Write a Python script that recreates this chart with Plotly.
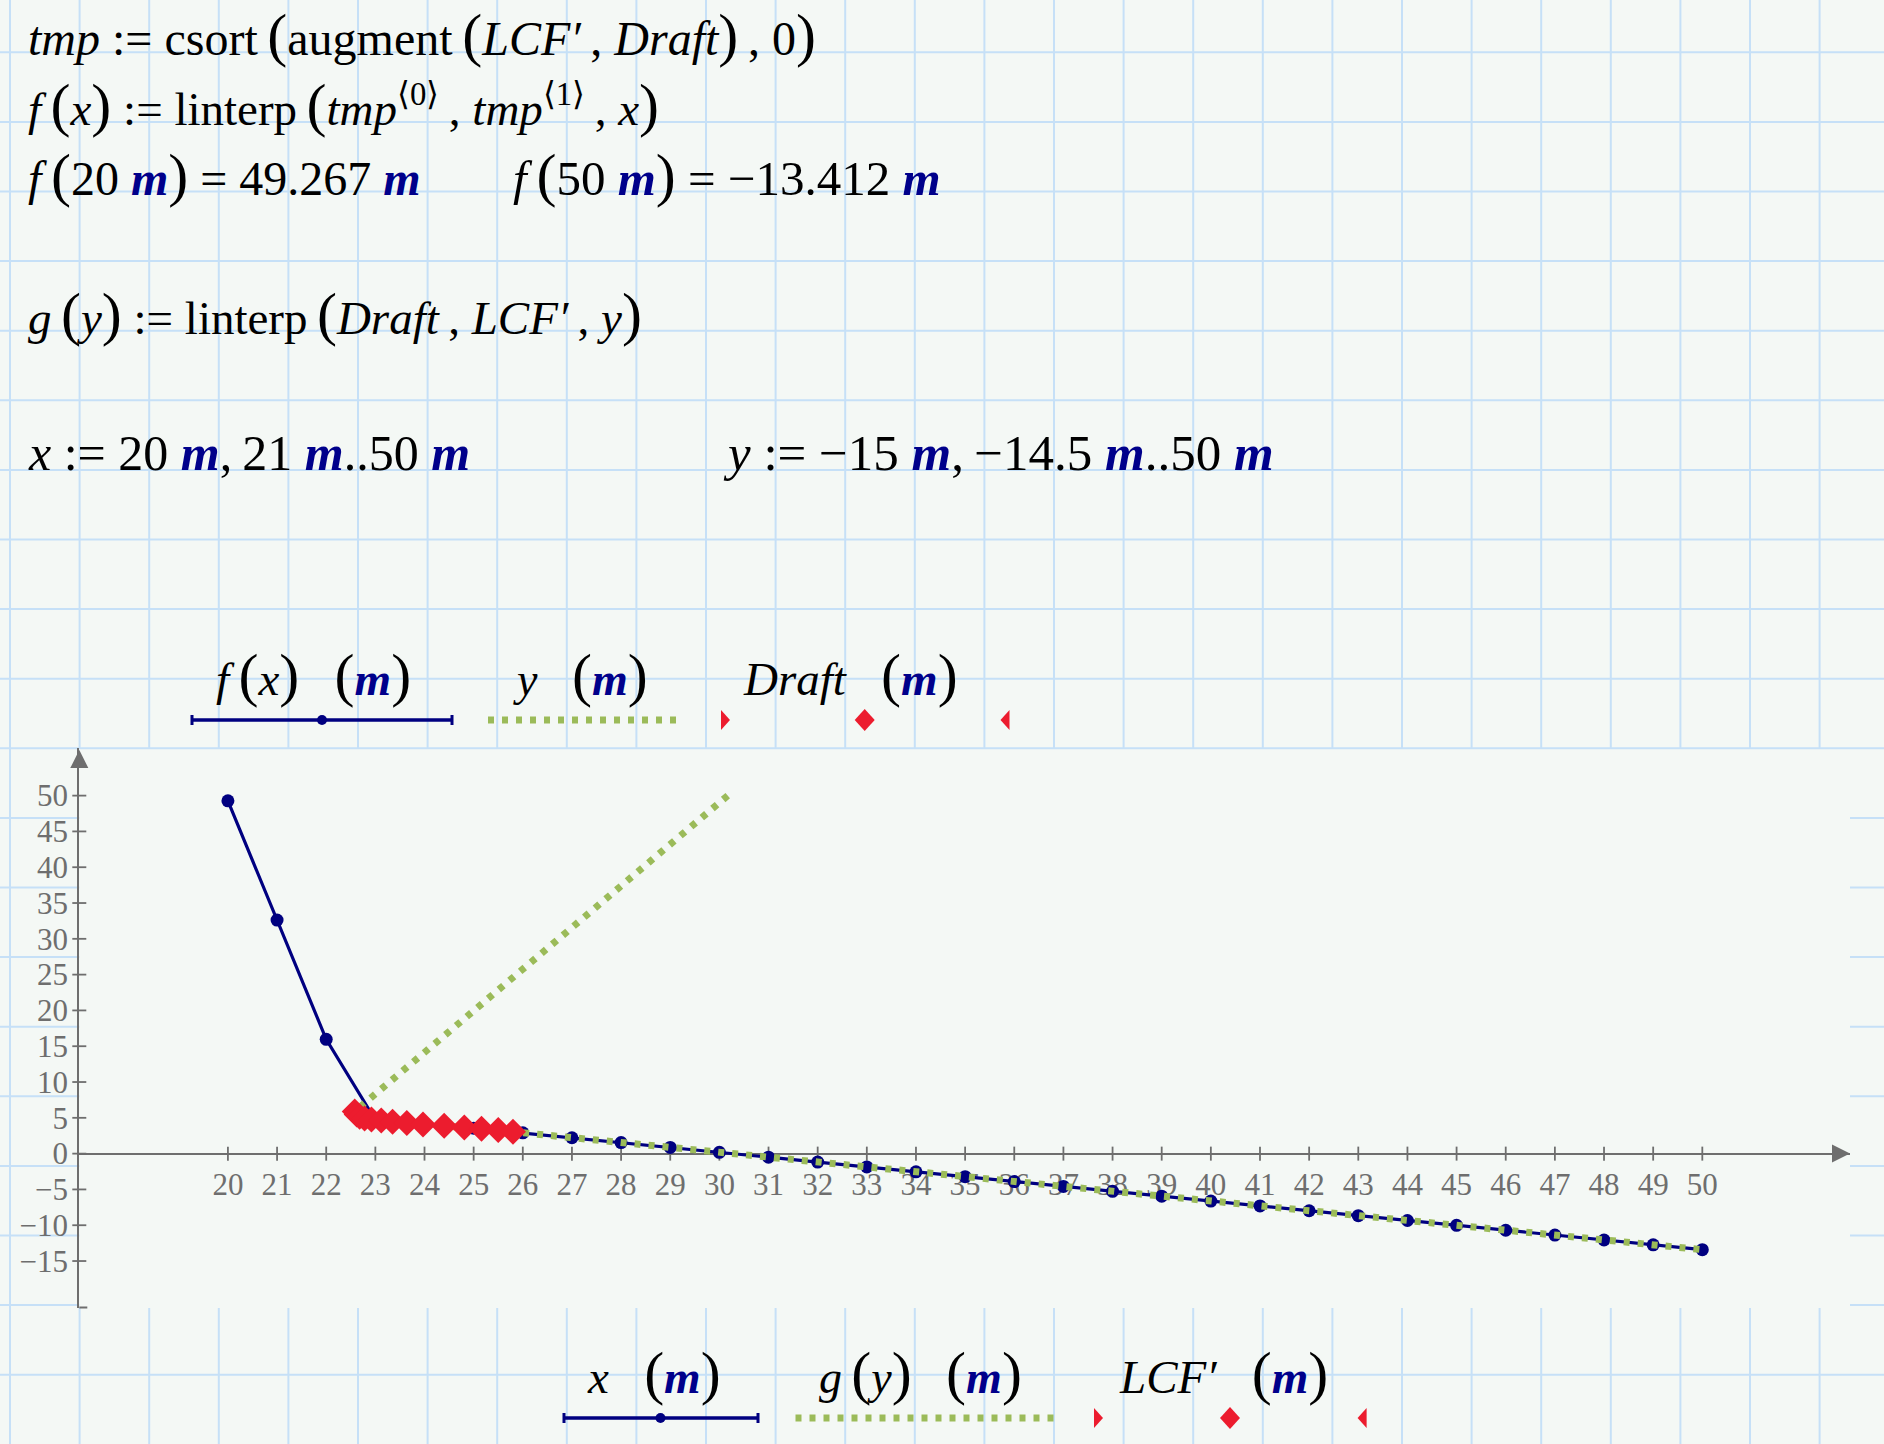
import plotly.graph_objects as go

W, H = 1884, 1444
BG = "#f4f8f5"
GRID = "#c6e0f7"
AXIS = "#6e6e6e"
NAVY = "#000080"
GREEN = "#9bbb59"
RED = "#ec1c2e"
UNIT = "#00008b"
FONT = "Liberation Serif"

# ── datos leídos de la hoja ───────────────────────────────────────────────────
# f(x) evaluada en x = 20 m, 21 m .. 50 m
x_vals = list(range(20, 51))
f_vals = [49.267, 32.62, 15.97, 4.70, 4.07, 3.56, 2.90, 2.22, 1.54, 0.86, 0.18,
          -0.50, -1.18, -1.86, -2.54, -3.22, -3.90, -4.58, -5.26, -5.94, -6.62,
          -7.30, -7.98, -8.66, -9.34, -10.02, -10.70, -11.38, -12.06, -12.74, -13.412]

# (g(y), y): vértices de la curva punteada
g_vals = [30.17, 22.60, 22.80, 23.40, 24.15, 25.10, 25.80, 50.08]
y_vals = [50.0, 6.0, 5.0, 4.45, 3.95, 3.50, 3.05, -13.47]

# (LCF', Draft)
lcf = [22.58, 22.62, 22.68, 22.78, 22.92, 23.12, 23.35, 23.64, 23.97, 24.40,
       24.81, 25.16, 25.50, 25.80]
draft = [5.90, 5.45, 5.15, 4.92, 4.76, 4.62, 4.45, 4.28, 4.08, 3.88,
         3.66, 3.48, 3.30, 3.05]

x_ticks = list(range(20, 51))
y_ticks = list(range(-15, 55, 5))

X_RANGE = [16.976, 53.005]
Y_RANGE = [-21.56, 56.65]


def px(x):
    return x / W


def py(y):
    return 1 - y / H


# ── geometría en píxeles ──────────────────────────────────────────────────────
PL, PR, PT, PB = 79.3, 1850, 748, 1308
Y0 = 1153.6  # píxel de y = 0

fig = go.Figure()

# marcas de los ejes (cruzan la línea)
fig.add_trace(go.Scatter(
    x=x_ticks, y=[0] * len(x_ticks), mode="markers", cliponaxis=False,
    marker=dict(symbol="line-ns", size=10, line=dict(width=1.8, color=AXIS)),
))
fig.add_trace(go.Scatter(
    x=[X_RANGE[0]] * len(y_ticks), y=y_ticks, mode="markers", cliponaxis=False,
    marker=dict(symbol="line-ew", size=10, line=dict(width=1.8, color=AXIS)),
))

fig.add_trace(go.Scatter(
    x=x_vals, y=f_vals, mode="lines+markers", cliponaxis=False,
    line=dict(color=NAVY, width=3.2),
    marker=dict(color=NAVY, size=13),
))
fig.add_trace(go.Scatter(
    x=g_vals, y=y_vals, mode="lines", cliponaxis=False,
    line=dict(color=GREEN, width=7, dash="6px,8px"),
))
fig.add_trace(go.Scatter(
    x=lcf, y=draft, mode="markers", cliponaxis=False,
    marker=dict(symbol="diamond", color=RED, size=20, line=dict(width=0)),
))

# ── papel cuadriculado ────────────────────────────────────────────────────────
shapes = []


def seg(x0, y0, x1, y1, color=GRID, width=2):
    shapes.append(dict(type="line", xref="paper", yref="paper", layer="below",
                       x0=px(x0), y0=py(y0), x1=px(x1), y1=py(y1),
                       line=dict(color=color, width=width)))


for k in range(27):
    gx = 10 + 69.6 * k
    if gx < PL - 2:
        seg(gx, 0, gx, H)
    else:
        seg(gx, 0, gx, PT)
        seg(gx, PB, gx, H)
for k in range(20):
    gy = 52.3 + 69.6 * k
    if PT + 2 < gy < PB:
        seg(0, gy, PL, gy)
        seg(PR, gy, W, gy)
    else:
        seg(0, gy, W, gy)


def path(points, color):
    d = "M" + " L".join(f"{px(a):.5f},{py(b):.5f}" for a, b in points) + " Z"
    shapes.append(dict(type="path", xref="paper", yref="paper", path=d,
                       fillcolor=color, line=dict(width=0), layer="above"))


# flechas de los ejes y remate inferior del eje y
path([(PR, Y0), (PR - 18, Y0 - 9), (PR - 18, Y0 + 9)], AXIS)
path([(PL, 750), (PL - 9, 768), (PL + 9, 768)], AXIS)
shapes.append(dict(type="line", xref="paper", yref="paper",
                   x0=px(PL), y0=py(PB - 0.5), x1=px(PL + 8), y1=py(PB - 0.5),
                   line=dict(color=AXIS, width=2)))


# ── muestras de leyenda ───────────────────────────────────────────────────────
def legend_row(yy, blue, green, red):
    b0, bdot, b1 = blue
    shapes.append(dict(type="line", xref="paper", yref="paper",
                       x0=px(b0), y0=py(yy), x1=px(b1), y1=py(yy),
                       line=dict(color=NAVY, width=3.5)))
    for bx in (b0, b1):
        shapes.append(dict(type="line", xref="paper", yref="paper",
                           x0=px(bx), y0=py(yy - 5), x1=px(bx), y1=py(yy + 5),
                           line=dict(color=NAVY, width=3)))
    shapes.append(dict(type="circle", xref="paper", yref="paper",
                       x0=px(bdot - 5), x1=px(bdot + 5), y0=py(yy - 5), y1=py(yy + 5),
                       fillcolor=NAVY, line=dict(width=0)))
    g0, g1 = green
    shapes.append(dict(type="line", xref="paper", yref="paper",
                       x0=px(g0), y0=py(yy), x1=px(g1), y1=py(yy),
                       line=dict(color=GREEN, width=7, dash="6px,8px")))
    r0, rd, r1 = red
    path([(r0, yy - 10), (r0 + 9, yy), (r0, yy + 10)], RED)
    path([(rd - 10, yy), (rd, yy - 11), (rd + 10, yy), (rd, yy + 11)], RED)
    path([(r1, yy - 10), (r1 - 9, yy), (r1, yy + 10)], RED)


legend_row(720, (192, 322, 452), (488, 680), (721, 864.7, 1009.5))
legend_row(1418, (564, 660.5, 758), (795.5, 1056.6), (1094, 1230, 1366.6))

# ── textos ────────────────────────────────────────────────────────────────────
M = f"<span style='color:{UNIT};font-weight:bold;font-style:italic'>m</span>"
LP = "<span style='font-size:60px'>(</span>"
RP = "<span style='font-size:60px'>)</span>"
T = "\u2009"  # espacio fino

texts = [
    (26, 52, 48, f"<i>tmp</i> := csort{T}{LP}augment{T}{LP}<i>LCF′</i>{T}, <i>Draft</i>{RP}{T}, 0{RP}"),
    (26, 122, 47, f"<i>f</i>{T}{LP}<i>x</i>{RP} := linterp{T}{LP}<i>tmp</i><sup>⟨0⟩</sup>{T}, <i>tmp</i><sup>⟨1⟩</sup>{T}, <i>x</i>{RP}"),
    (26, 192, 48, f"<i>f</i>{T}{LP}20 {M}{RP} = 49.267 {M}"),
    (511, 192, 49, f"<i>f</i>{T}{LP}50 {M}{RP} = −13.412 {M}"),
    (26, 331, 47, f"<i>g</i>{T}{LP}<i>y</i>{RP} := linterp{T}{LP}<i>Draft</i>{T}, <i>LCF′</i>{T}, <i>y</i>{RP}"),
    (26, 470, 50, f"<i>x</i> := 20 {M},{T}21 {M}..50 {M}"),
    (721, 470, 51, f"<i>y</i> := −15 {M},{T}−14.5 {M}..50 {M}"),
    (214, 692, 47, f"<i>f</i>{T}{LP}<i>x</i>{RP}   {LP}{M}{RP}"),
    (511, 692, 46, f"<i>y</i>   {LP}{M}{RP}"),
    (741, 692, 47, f"<i>Draft</i>   {LP}{M}{RP}"),
    (585, 1390, 47, f"<i>x</i>   {LP}{M}{RP}"),
    (817, 1390, 46, f"<i>g</i>{T}{LP}<i>y</i>{RP}   {LP}{M}{RP}"),
    (1117, 1390, 47, f"<i>LCF′</i>   {LP}{M}{RP}"),
]
annotations = []
for tx, base, size, s in texts:
    annotations.append(dict(
        x=px(tx), y=py(base - 17), xref="paper", yref="paper",
        xanchor="left", yanchor="middle", showarrow=False, text=s,
        font=dict(family=FONT, size=size, color="black"),
    ))

fig.update_layout(
    width=W, height=H,
    margin=dict(l=0, r=0, t=0, b=0),
    paper_bgcolor=BG, plot_bgcolor=BG,
    showlegend=False, hovermode=False,
    xaxis=dict(
        domain=[px(PL), px(PR)], range=X_RANGE, anchor="free", position=py(Y0),
        showline=True, linecolor=AXIS, linewidth=2, layer="below traces",
        showgrid=False, zeroline=False, ticks="",
        tickmode="array", tickvals=x_ticks, ticktext=[str(v) for v in x_ticks],
        tickfont=dict(family=FONT, size=31, color=AXIS), ticklabelstandoff=3,
    ),
    yaxis=dict(
        domain=[py(PB), py(PT)], range=Y_RANGE, anchor="x",
        showline=True, linecolor=AXIS, linewidth=2, layer="below traces",
        showgrid=False, zeroline=False, ticks="",
        tickmode="array", tickvals=y_ticks,
        tickfont=dict(family=FONT, size=31, color=AXIS), ticklabelstandoff=3,
    ),
    shapes=shapes,
    annotations=annotations,
)

fig.write_html("out.html", config={"displayModeBar": False},
               post_script="document.body.style.margin='0';document.body.style.overflow='hidden';")
